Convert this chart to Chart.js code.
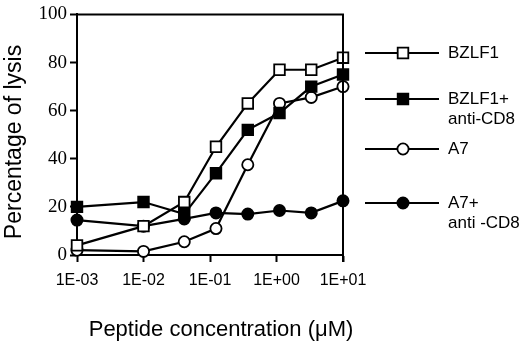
<!DOCTYPE html>
<html>
<head>
<meta charset="utf-8">
<script src="https://cdn.jsdelivr.net/npm/chart.js@4.4.1/dist/chart.umd.min.js"></script>
<style>
    html, body { margin: 0; padding: 0; background: #fff; }
    #chart-box { width: 520px; height: 350px; position: relative; }
</style>
</head>
<body>
<div id="chart-box"><canvas id="lysisChart"></canvas></div>
<script>
// peptide concentrations (uM), 3-fold dilutions plus two low points
const concentrations = [0.001, 0.01, 0.041, 0.123, 0.37, 1.11, 3.33, 10];
const bzlf1 = [4, 12, 22, 45, 63, 77, 77, 82];
const bzlf1AntiCd8 = [20, 22, 17, 34, 52, 59, 70, 75];
const a7 = [2, 1.5, 5.5, 11, 37.5, 63, 65.5, 70];
const a7AntiCd8 = [14.5, 12, 15, 17.5, 17, 18.5, 17.5, 22.5];
const seriesLabels = [['BZLF1'], ['BZLF1+', 'anti-CD8'], ['A7'], ['A7+', 'anti -CD8']];
const xTickValues = [0.001, 0.01, 0.1, 1, 10];
const xTickLabels = ['1E-03', '1E-02', '1E-01', '1E+00', '1E+01'];
const yTickValues = [0, 20, 40, 60, 80, 100];

const SANS = '"Liberation Sans", Arial, Helvetica, sans-serif';
const SERIF = '"Liberation Serif", "Times New Roman", serif';

function toPoints(values) {
    return values.map(function(v, i) { return { x: concentrations[i], y: v }; });
}

function makeDataset(label, values, style, filled) {
    return {
        label: label.join(' '),
        data: toPoints(values),
        borderColor: '#000',
        borderWidth: 2.2,
        backgroundColor: '#000',
        pointStyle: style,
        pointRadius: style === 'rect' ? 7.5 : 5.6,
        pointBorderWidth: 1.8,
        pointBorderColor: '#000',
        pointBackgroundColor: filled ? '#000' : '#fff',
        tension: 0,
        clip: false
    };
}

// frame (top and right lines), axis titles and the side legend
const decorPlugin = {
    id: 'decor',
    afterDraw(chart) {
        const ctx = chart.ctx;
        const area = chart.chartArea;
        const datasets = chart.data.datasets;
        ctx.save();
        ctx.strokeStyle = '#000';
        ctx.lineWidth = 2;
        ctx.beginPath();
        ctx.moveTo(area.left, area.top);
        ctx.lineTo(area.right, area.top);
        ctx.lineTo(area.right, area.bottom + 7);
        ctx.stroke();

        ctx.fillStyle = '#000';
        ctx.font = '23px ' + SANS;
        ctx.textAlign = 'center';
        ctx.textBaseline = 'middle';
        ctx.save();
        ctx.translate(15, 142);
        ctx.rotate(-Math.PI / 2);
        ctx.fillText('Percentage of lysis', 0, 0);
        ctx.restore();

        ctx.font = '22px ' + SANS;
        ctx.fillText('Peptide concentration (\u03bcM)', 221, 330);

        const legendY = [53, 99, 149, 203];
        const lineStart = area.right + 22;
        const lineEnd = area.right + 96;
        const markX = area.right + 60;
        const textX = area.right + 105;
        ctx.font = '17px ' + SANS;
        ctx.textAlign = 'left';
        datasets.forEach(function(ds, i) {
            const y = legendY[i];
            ctx.lineWidth = 2.2;
            ctx.beginPath();
            ctx.moveTo(lineStart, y);
            ctx.lineTo(lineEnd, y);
            ctx.stroke();
            ctx.lineWidth = ds.pointBorderWidth;
            ctx.fillStyle = ds.pointBackgroundColor;
            ctx.beginPath();
            if (ds.pointStyle === 'rect') {
                const s = ds.pointRadius * Math.SQRT1_2;
                ctx.rect(markX - s, y - s, 2 * s, 2 * s);
            } else {
                ctx.arc(markX, y, ds.pointRadius, 0, Math.PI * 2);
            }
            ctx.fill();
            ctx.stroke();
            ctx.fillStyle = '#000';
            seriesLabels[i].forEach(function(line, j) {
                ctx.fillText(line, textX, y + j * 20);
            });
        });
        ctx.restore();
    }
};

const ctx = document.getElementById('lysisChart').getContext('2d');
new Chart(ctx, {
    type: 'line',
    data: {
        datasets: [
            makeDataset(seriesLabels[0], bzlf1, 'rect', false),
            makeDataset(seriesLabels[1], bzlf1AntiCd8, 'rect', true),
            makeDataset(seriesLabels[2], a7, 'circle', false),
            makeDataset(seriesLabels[3], a7AntiCd8, 'circle', true)
        ]
    },
    options: {
        responsive: true,
        maintainAspectRatio: false,
        animation: false,
        layout: { padding: { top: 7, right: 177, left: 0, bottom: 0 } },
        plugins: {
            legend: { display: false },
            tooltip: { enabled: false }
        },
        scales: {
            x: {
                type: 'logarithmic',
                min: 0.001,
                max: 10,
                afterBuildTicks: function(scale) {
                    scale.ticks = xTickValues.map(function(v) { return { value: v }; });
                },
                afterFit: function(scale) { scale.height = 95; },
                ticks: {
                    autoSkip: false,
                    maxRotation: 0,
                    padding: 9,
                    color: '#000',
                    font: { family: SANS, size: 16 },
                    callback: function(value, index) { return xTickLabels[index]; }
                },
                grid: { drawOnChartArea: false, drawTicks: true, tickLength: 7, tickWidth: 2, color: '#000' },
                border: { display: true, color: '#000', width: 2 }
            },
            y: {
                type: 'linear',
                min: 0,
                max: 100,
                afterBuildTicks: function(scale) {
                    scale.ticks = yTickValues.map(function(v) { return { value: v }; });
                },
                afterFit: function(scale) { scale.width = 77; },
                ticks: {
                    padding: 3,
                    color: '#000',
                    font: { family: SERIF, size: 19 }
                },
                grid: { drawOnChartArea: false, drawTicks: true, tickLength: 7, tickWidth: 2, color: '#000' },
                border: { display: true, color: '#000', width: 2 }
            }
        }
    },
    plugins: [decorPlugin]
});
</script>
</body>
</html>
